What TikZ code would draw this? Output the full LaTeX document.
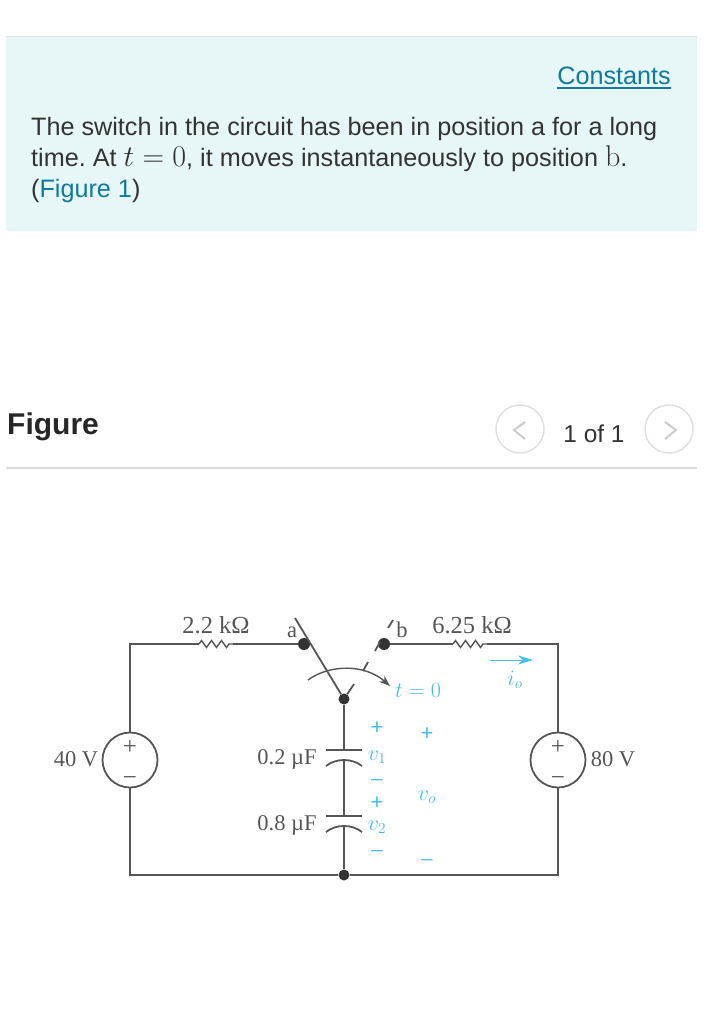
\documentclass[tikz,border=0pt]{standalone}
\usepackage{fix-cm}
\usepackage[no-math]{fontspec}
\setmainfont{Liberation Sans}
\newfontfamily\labelfont{Liberation Serif}
\usetikzlibrary{calc}
\usetikzlibrary{arrows.meta}
\usetikzlibrary{decorations.pathmorphing}

\definecolor{panelbg}{HTML}{E7F7F8}
\definecolor{rulegray}{HTML}{DEDEDE}
\definecolor{linkblue}{HTML}{0F7A9C}
\definecolor{bodyink}{HTML}{333333}
\definecolor{wireink}{HTML}{555555}
\definecolor{figblue}{HTML}{45BCEA}

\newcommand{\bigmath}[1]{{\fontsize{30}{30}\selectfont$#1$}}
\frenchspacing

\tikzset{
  wire/.style = {draw = wireink, line width = 1.8},
  res/.style = {wire, line width = 1.4, decorate, decoration = {
    zigzag,
    amplitude = 3.5,
    segment length = 10}},
  dot/.style = {circle, fill = bodyink, inner sep = 0, minimum size = 12},
  src/.style = {circle, wire, fill = white, inner sep = 0, minimum size = 55},
  body/.style = {font = \fontsize{25.2}{30}\selectfont, text = bodyink, anchor = base west, inner sep = 0},
  lbl/.style = {font = \labelfont\fontsize{22.5}{24}\selectfont, text = wireink, inner sep = 0},
  ohm/.style = {lbl, font = \labelfont\fontsize{24.5}{24}\selectfont},
  sgn/.style = {lbl, font = \labelfont\fontsize{25}{24}\selectfont},
  sym/.style = {font = \fontsize{22}{24}\selectfont, text = figblue, inner sep = 0},
  symminus/.style = {sym, font = \labelfont\fontsize{25}{24}\selectfont},
  btn/.style = {circle, draw = rulegray, line width = 1.4, inner sep = 0, minimum size = 48}
}

\begin{document}
\begin{tikzpicture}[x = 1pt, y = -1pt]
  \useasboundingbox (0, 0) rectangle (720, 1024);

  % panel
  \fill[panelbg] (6, 37) rectangle (697, 231);
  \draw[rulegray, line width = 1.5] (6, 36.5) -- (697, 36.5);
  \node[body, text = linkblue, anchor = base east] (const) at (671, 85) {Constants};
  \draw[linkblue, line width = 1.2] ($(const.base west) + (0, 3)$) -- ($(const.base east) + (0, 3)$);
  \node[body] (line1) at (31, 136) {The switch in the circuit has been in position a for a long};
  \node[body] (line2) at (31, 167) {time. At \bigmath{t = 0}, it moves instantaneously to position \bigmath{\mathrm{b}}.};
  \node[body] (line3) at (31, 198) {(\textcolor{linkblue}{Figure 1})};

  % header
  \node[body, font = \fontsize{30}{32}\selectfont\bfseries, text = black!85] (head) at (7, 434) {Figure};
  \node[btn] (prev) at (520, 429) {};
  \node[btn] (next) at (669, 429) {};
  \draw[black!20, line width = 2] (525, 422) -- (514, 430) -- (525, 439);
  \draw[black!20, line width = 2] (665, 422) -- (676, 430) -- (665, 439);
  \node[body, anchor = base, font = \fontsize{24.4}{30}\selectfont] (count) at (594, 442) {1 of 1};
  \draw[rulegray, line width = 1.5] (6, 468) -- (697, 468);

  % circuit
  \coordinate (TL) at (130, 644);
  \coordinate (BL) at (130, 875);
  \coordinate (TR) at (558, 644);
  \coordinate (BR) at (558, 875);
  \coordinate (R1a) at (199, 644);
  \coordinate (R1b) at (233, 644);
  \coordinate (R2a) at (453, 644);
  \coordinate (R2b) at (487, 644);
  \coordinate (C1a) at (344, 750);
  \coordinate (C1b) at (344, 760);
  \coordinate (C2a) at (344, 816);
  \coordinate (C2b) at (344, 826);
  \node[src] (Vl) at (130, 760) {};
  \node[src] (Vr) at (558, 760) {};
  \node[dot] (A) at (304, 644) {};
  \node[dot] (B) at (384, 644) {};
  \node[dot, minimum size = 11] (Mid) at (344, 699) {};
  \node[dot, minimum size = 11] (Bot) at (344, 875) {};

  \draw[wire] (Vl) -- (TL) -- (R1a);
  \draw[res] (R1a) -- (R1b);
  \draw[wire] (R1b) -- (A);
  \draw[wire] (B) -- (R2a);
  \draw[res] (R2a) -- (R2b);
  \draw[wire] (R2b) -- (TR) -- (Vr);
  \draw[wire] (Vr) -- (BR) -- (Bot) -- (BL) -- (Vl);
  \draw[wire] (Mid) -- (C1a);
  \draw[wire] (C1b) -- (C2a);
  \draw[wire] (C2b) -- (Bot);

  \foreach \plate in {C1, C2} {
    \draw[wire] ($(\plate a) + (-18, 0)$) -- ++(36, 0);
    \draw[wire] ($(\plate b) + (-18, 6)$) .. controls ($(\plate b) + (-8, -2)$)
      and ($(\plate b) + (8, -2)$) .. ($(\plate b) + (18, 6)$);
  }

  % switch
  \coordinate (Blade) at (295, 618);
  \coordinate (Swing) at (308, 680);
  \coordinate (Swung) at (390, 686);
  \draw[wire] (Mid) -- (Blade);
  \draw[wire] (Mid) -- (354, 684);
  \draw[wire] (363, 671) -- (368, 662);
  \draw[wire] (375, 651) -- (380, 642);
  \draw[wire] (388, 628) -- (393, 620);
  \draw[wire, line width = 1.4, -{Stealth[length = 11pt, width = 8pt]}] (Swing) .. controls (330, 664) and (365, 664) .. (Swung);

  % labels
  \node[ohm] (lR1) at (216, 625) {2.2 kΩ};
  \node[ohm] (lR2) at (472, 625) {6.25 kΩ};
  \node[lbl] (la) at (292, 632) {a};
  \node[lbl] (lb) at (402, 630) {b};
  \node[lbl] (lVl) at (76, 759) {40 V};
  \node[lbl] (lVr) at (613, 759) {80 V};
  \node[lbl] (lC1) at (287, 759) {0.2 µF};
  \node[lbl] (lC2) at (287, 825) {0.8 µF};
  \node[sgn] (pl) at (130, 747) {+};
  \node[sgn] (ml) at (130, 781) {\textminus};
  \node[sgn] (pr) at (558, 747) {+};
  \node[sgn] (mr) at (558, 781) {\textminus};

  % blue marks
  \node[sym] (tz) at (418, 690) {$t = 0$};
  \node[sym] (io) at (515, 680) {$i_o$};
  \node[sym] (p1) at (377, 728) {+};
  \node[sym] (p2) at (377, 803) {+};
  \node[sym] (p3) at (427, 734) {+};
  \node[sym] (v1) at (377, 757) {$v_1$};
  \node[sym] (v2) at (377, 827) {$v_2$};
  \node[sym] (vo) at (427, 797) {$v_o$};
  \node[symminus] (m1) at (377, 784) {\textminus};
  \node[symminus] (m2) at (377, 855) {\textminus};
  \node[symminus] (m3) at (427, 864) {\textminus};
  \coordinate (ioa) at (490, 660);
  \coordinate (iob) at (533, 660);
  \draw[figblue, line width = 1, -{Stealth[length = 15pt, width = 9pt]}] (ioa) -- (iob);
\end{tikzpicture}
\end{document}
